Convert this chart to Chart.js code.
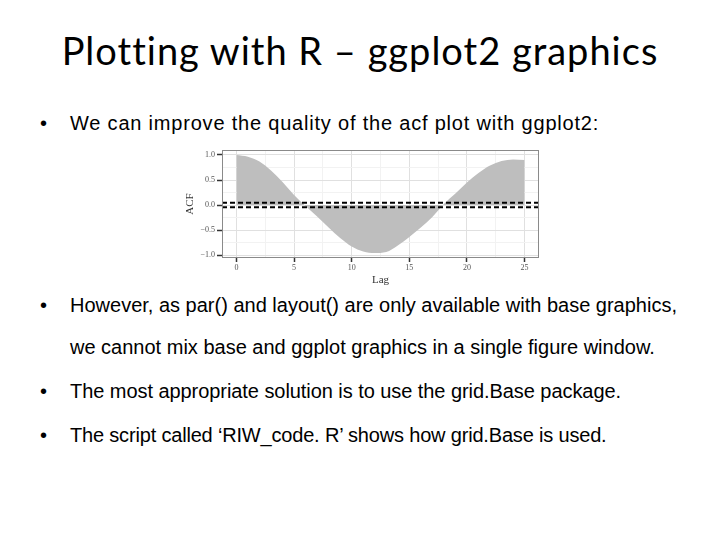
<!DOCTYPE html>
<html>
<head>
<meta charset="utf-8">
<script src="https://cdn.jsdelivr.net/npm/chart.js@4"></script>
<style>
  html, body { margin: 0; padding: 0; background: #fff; }
  #slide { position: relative; width: 720px; height: 540px; overflow: hidden; }
  .title { position: absolute; left: 0; width: 720px; top: 27px; text-align: center;
           font-family: Lato, "Open Sans", sans-serif; font-size: 38px; letter-spacing: 1px;
           color: #000; white-space: nowrap; }
  .line { position: absolute; left: 70px; font-family: "Liberation Sans", Arial, sans-serif;
          font-size: 20px; color: #000; white-space: nowrap; }
  .dot { position: absolute; left: 40px; font-family: "Liberation Sans", Arial, sans-serif;
         font-size: 20px; color: #000; }
  #acfChart { position: absolute; left: 170px; top: 140px; }
</style>
</head>
<body>
<div id="slide">
  <div class="title">Plotting with R – ggplot2 graphics</div>

  <div class="dot" style="top:112px">•</div>
  <div class="line" style="top:112px; letter-spacing:0.8px">We can improve the quality of the acf plot with ggplot2:</div>

  <canvas id="acfChart" width="380" height="150"></canvas>

  <div class="dot" style="top:294px">•</div>
  <div class="line" style="top:294px">However, as par() and layout() are only available with base graphics,</div>
  <div class="line" style="top:336px">we cannot mix base and ggplot graphics in a single figure window.</div>

  <div class="dot" style="top:380px">•</div>
  <div class="line" style="top:380px; letter-spacing:-0.06px">The most appropriate solution is to use the grid.Base package.</div>

  <div class="dot" style="top:424px">•</div>
  <div class="line" style="top:424px; letter-spacing:-0.18px">The script called ‘RIW_code. R’ shows how grid.Base is used.</div>
</div>

<script>
// acf values
const lags = [0, 1, 2, 3, 4, 5, 6, 7, 8, 9, 10, 11, 12, 13, 14, 15, 16, 17, 18, 19, 20, 21, 22, 23, 24, 25];
const acfValues = [1.00, 0.965, 0.87, 0.69, 0.46, 0.20, -0.02, -0.23, -0.45, -0.66, -0.83, -0.93, -0.96,
  -0.94, -0.81, -0.64, -0.45, -0.24, 0.02, 0.23, 0.45, 0.64, 0.79, 0.88, 0.91, 0.90];
const ciBound = 0.045;

const xTicks = [0, 2.5, 5, 7.5, 10, 12.5, 15, 17.5, 20, 22.5, 25];
const xMajor = [0, 5, 10, 15, 20, 25];
const yTicks = [-1, -0.75, -0.5, -0.25, 0, 0.25, 0.5, 0.75, 1];
const yMajor = [-1, -0.5, 0, 0.5, 1];

const xMin = -1.25, xMax = 26.25;
const yMin = -1.06, yMax = 1.10;

const isMajor = (list, v) => list.some((m) => Math.abs(m - v) < 1e-9);

// grey border round the panel, as in theme_bw
const panelBorder = {
  id: "panelBorder",
  afterDatasetsDraw(chart) {
    const a = chart.chartArea;
    const c = chart.ctx;
    c.save();
    c.strokeStyle = "#8a8a8a";
    c.lineWidth = 1;
    c.strokeRect(a.left + 0.5, a.top + 0.5, a.right - a.left - 1, a.bottom - a.top - 1);
    c.restore();
  },
};

const ctx = document.getElementById("acfChart").getContext("2d");
new Chart(ctx, {
  type: "line",
  data: {
    datasets: [
      {
        label: "ACF",
        data: lags.map((l, i) => ({ x: l, y: acfValues[i] })),
        fill: "origin",
        backgroundColor: "#bebebe",
        borderWidth: 0,
        borderColor: "rgba(0,0,0,0)",
        pointRadius: 0,
        cubicInterpolationMode: "monotone",
        order: 2,
      },
      {
        label: "upper",
        data: [{ x: xMin, y: ciBound }, { x: xMax, y: ciBound }],
        borderColor: "#000",
        borderWidth: 2,
        borderDash: [5, 3],
        pointRadius: 0,
        fill: false,
        order: 1,
      },
      {
        label: "lower",
        data: [{ x: xMin, y: -ciBound }, { x: xMax, y: -ciBound }],
        borderColor: "#000",
        borderWidth: 2,
        borderDash: [5, 3],
        pointRadius: 0,
        fill: false,
        order: 1,
      },
    ],
  },
  options: {
    responsive: false,
    animation: false,
    layout: { padding: { left: 10, right: 11, top: 10, bottom: 0 } },
    plugins: { legend: { display: false }, tooltip: { enabled: false } },
    scales: {
      x: {
        type: "linear",
        min: xMin,
        max: xMax,
        afterBuildTicks: (s) => { s.ticks = xTicks.map((v) => ({ value: v })); },
        afterFit: (s) => { s.height = 32; },
        border: { display: false },
        grid: {
          color: (c) => (isMajor(xMajor, c.tick.value) ? "#e0e0e0" : "#f2f2f2"),
          tickColor: (c) => (isMajor(xMajor, c.tick.value) ? "#333" : "rgba(0,0,0,0)"),
          tickLength: 4,
          tickWidth: 1.5,
        },
        ticks: {
          autoSkip: false,
          maxRotation: 0,
          padding: 1,
          color: "#555",
          font: { family: "Liberation Serif", size: 8 },
          callback: (v) => (isMajor(xMajor, v) ? String(v) : ""),
        },
        title: {
          display: true,
          text: "Lag",
          color: "#333",
          font: { family: "Liberation Serif", size: 11 },
          padding: { top: 0, bottom: 3 },
        },
      },
      y: {
        type: "linear",
        min: yMin,
        max: yMax,
        afterBuildTicks: (s) => { s.ticks = yTicks.map((v) => ({ value: v })); },
        afterFit: (s) => { s.width = 42; },
        border: { display: false },
        grid: {
          color: (c) => (isMajor(yMajor, c.tick.value) ? "#e0e0e0" : "#f2f2f2"),
          tickColor: (c) => (isMajor(yMajor, c.tick.value) ? "#333" : "rgba(0,0,0,0)"),
          tickLength: 5,
          tickWidth: 1.5,
        },
        ticks: {
          autoSkip: false,
          padding: 2,
          color: "#555",
          font: { family: "Liberation Serif", size: 8 },
          callback: (v) => (isMajor(yMajor, v) ? (v < 0 ? "−" : "") + Math.abs(v).toFixed(1) : ""),
        },
        title: {
          display: true,
          text: "ACF",
          color: "#333",
          font: { family: "Liberation Serif", size: 11 },
          padding: { top: 4, bottom: 2 },
        },
      },
    },
  },
  plugins: [panelBorder],
});
</script>
</body>
</html>
